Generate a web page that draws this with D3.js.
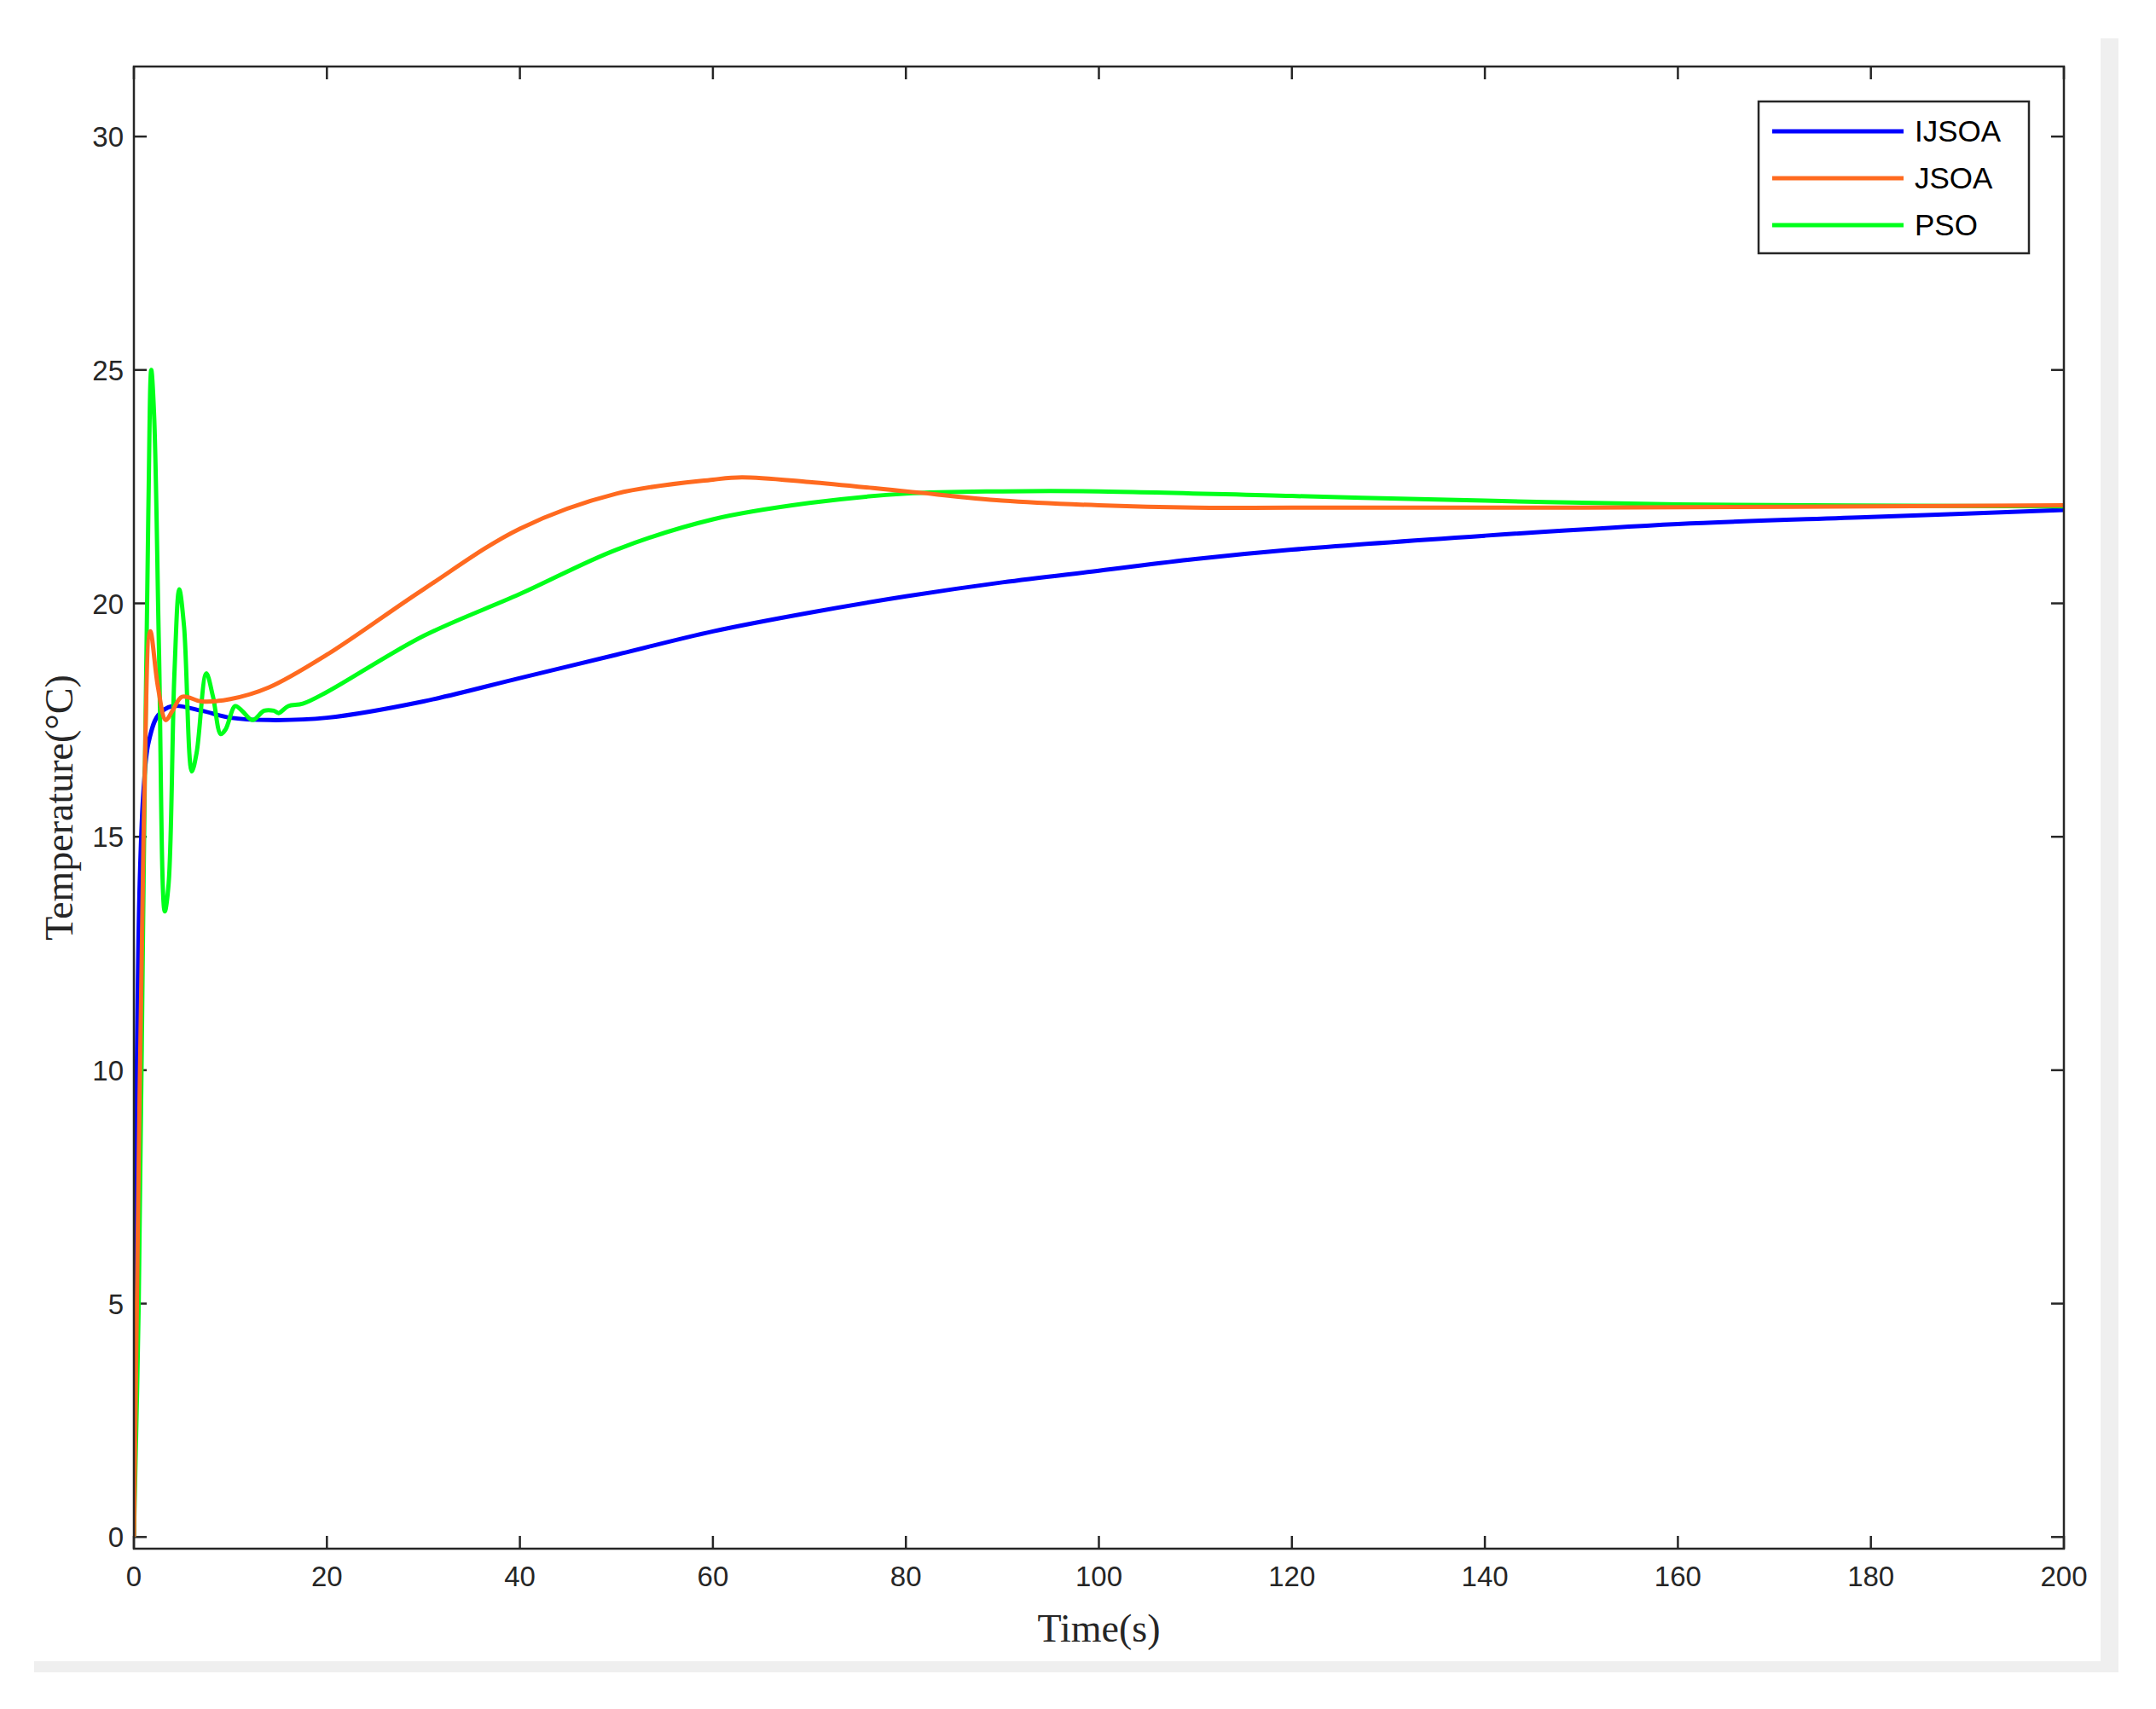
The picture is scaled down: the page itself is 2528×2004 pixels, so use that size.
<!DOCTYPE html>
<html><head><meta charset="utf-8">
<script src="https://cdn.jsdelivr.net/npm/d3@7"></script>
<style>body{margin:0;background:#fff}</style>
</head><body><div id="chart"></div>
<script>
const seriesNames = ['IJSOA', 'JSOA', 'PSO'];
const seriesColors = ['#0000ff', '#ff6a1f', '#00ff1a'];
const ijsoaT = [0, 0.3, 0.6, 1, 1.5, 2.5, 4, 7, 10, 14, 20, 30, 40, 50, 60, 70, 80, 90, 100, 110, 120, 140, 160, 180, 200];
const ijsoaV = [0, 10, 14, 16, 17, 17.6, 17.8, 17.7, 17.55, 17.5, 17.55, 17.9, 18.4, 18.9, 19.4, 19.8, 20.15, 20.45, 20.7, 20.95, 21.15, 21.45, 21.7, 21.85, 22.0];
const jsoaT = [0, 0.5, 1, 1.7, 2.5, 3.3, 4, 5, 7, 10, 14, 20, 30, 40, 50, 60, 63, 70, 80, 90, 100, 110, 120, 150, 200];
const jsoaV = [0, 8, 15, 19.4, 18.2, 17.5, 17.7, 18.0, 17.9, 17.95, 18.2, 18.9, 20.3, 21.6, 22.35, 22.65, 22.7, 22.6, 22.4, 22.2, 22.1, 22.05, 22.05, 22.05, 22.1];
const psoT = [0, 0.5, 1, 1.5, 1.8, 2.1, 2.6, 3.2, 3.6, 4.2, 4.7, 5.2, 6, 6.5, 7.5, 8.2, 9, 9.5, 10.5, 11.2, 12.3, 13.5, 14.5, 15, 16, 17.5, 20, 30, 40, 50, 60, 70, 80, 90, 100, 120, 140, 160, 200];
const psoV = [0, 5, 14, 22, 25, 24, 19, 13.4, 14, 18.5, 20.3, 19.5, 16.4, 16.8, 18.5, 18.0, 17.2, 17.3, 17.8, 17.7, 17.5, 17.7, 17.7, 17.65, 17.8, 17.85, 18.1, 19.3, 20.2, 21.15, 21.8, 22.15, 22.35, 22.4, 22.4, 22.3, 22.2, 22.12, 22.08];
const xTicks = d3.range(0, 201, 20);
const yTicks = d3.range(0, 31, 5);

const W = 2528, H = 2004;
const m = { left: 157, right: 2420, top: 78, bottom: 1816 };
const svg = d3.select('#chart').append('svg').attr('width', W).attr('height', H);

// figure frame strips
svg.append('rect').attr('x', 2463).attr('y', 45).attr('width', 21).attr('height', 1916).attr('fill', '#efefef');
svg.append('rect').attr('x', 40).attr('y', 1948).attr('width', 2444).attr('height', 13).attr('fill', '#efefef');

const x = d3.scaleLinear().domain([0, 200]).range([m.left, m.right]);
const y = d3.scaleLinear().domain([-0.25, 31.5]).range([m.bottom, m.top]);

const g = svg.append('g');
const tl = 15;
const tickStyle = s => s.attr('stroke', '#262626').attr('stroke-width', 2.5);
xTicks.forEach(t => {
  g.append('line').attr('x1', x(t)).attr('x2', x(t)).attr('y1', m.bottom).attr('y2', m.bottom - tl).call(tickStyle);
  g.append('line').attr('x1', x(t)).attr('x2', x(t)).attr('y1', m.top).attr('y2', m.top + tl).call(tickStyle);
  g.append('text').attr('x', x(t)).attr('y', m.bottom + 44).attr('text-anchor', 'middle')
    .attr('font-family', 'Liberation Sans, Arial').attr('font-size', 33).attr('fill', '#262626').text(t);
});
yTicks.forEach(t => {
  g.append('line').attr('x1', m.left).attr('x2', m.left + tl).attr('y1', y(t)).attr('y2', y(t)).call(tickStyle);
  g.append('line').attr('x1', m.right).attr('x2', m.right - tl).attr('y1', y(t)).attr('y2', y(t)).call(tickStyle);
  g.append('text').attr('x', m.left - 12).attr('y', y(t) + 12).attr('text-anchor', 'end')
    .attr('font-family', 'Liberation Sans, Arial').attr('font-size', 33).attr('fill', '#262626').text(t);
});

const data = [
  ijsoaT.map((t, i) => [t, ijsoaV[i]]),
  jsoaT.map((t, i) => [t, jsoaV[i]]),
  psoT.map((t, i) => [t, psoV[i]])
];
const line = d3.line().x(d => x(d[0])).y(d => y(d[1])).curve(d3.curveCatmullRom.alpha(0.5));
svg.append('defs').append('clipPath').attr('id', 'clip').append('rect')
  .attr('x', m.left).attr('y', m.top).attr('width', m.right - m.left).attr('height', m.bottom - m.top);
[0, 2, 1].forEach(i => {
  svg.append('path').attr('d', line(data[i])).attr('fill', 'none')
    .attr('stroke', seriesColors[i]).attr('stroke-width', 5).attr('clip-path', 'url(#clip)');
});

svg.append('rect').attr('x', m.left).attr('y', m.top).attr('width', m.right - m.left).attr('height', m.bottom - m.top)
  .attr('fill', 'none').attr('stroke', '#262626').attr('stroke-width', 2.5);

// legend
const lg = svg.append('g');
lg.append('rect').attr('x', 2062).attr('y', 119).attr('width', 317).attr('height', 178)
  .attr('fill', '#fff').attr('stroke', '#262626').attr('stroke-width', 2.5);
seriesNames.forEach((n, i) => {
  const yy = 154 + i * 55;
  lg.append('line').attr('x1', 2078).attr('x2', 2232).attr('y1', yy).attr('y2', yy)
    .attr('stroke', seriesColors[i]).attr('stroke-width', 5);
  lg.append('text').attr('x', 2245).attr('y', yy + 12).attr('font-family', 'Liberation Sans, Arial')
    .attr('font-size', 35).attr('fill', '#000').text(n);
});

svg.append('text').attr('x', (m.left + m.right) / 2).attr('y', 1925).attr('text-anchor', 'middle')
  .attr('font-family', 'Liberation Serif, Times New Roman').attr('font-size', 46).attr('fill', '#262626').text('Time(s)');
svg.append('text').attr('transform', `translate(85, ${(m.top + m.bottom) / 2}) rotate(-90)`).attr('text-anchor', 'middle')
  .attr('font-family', 'Liberation Serif, Times New Roman').attr('font-size', 46).attr('fill', '#262626').text('Temperature(°C)');
</script></body></html>
